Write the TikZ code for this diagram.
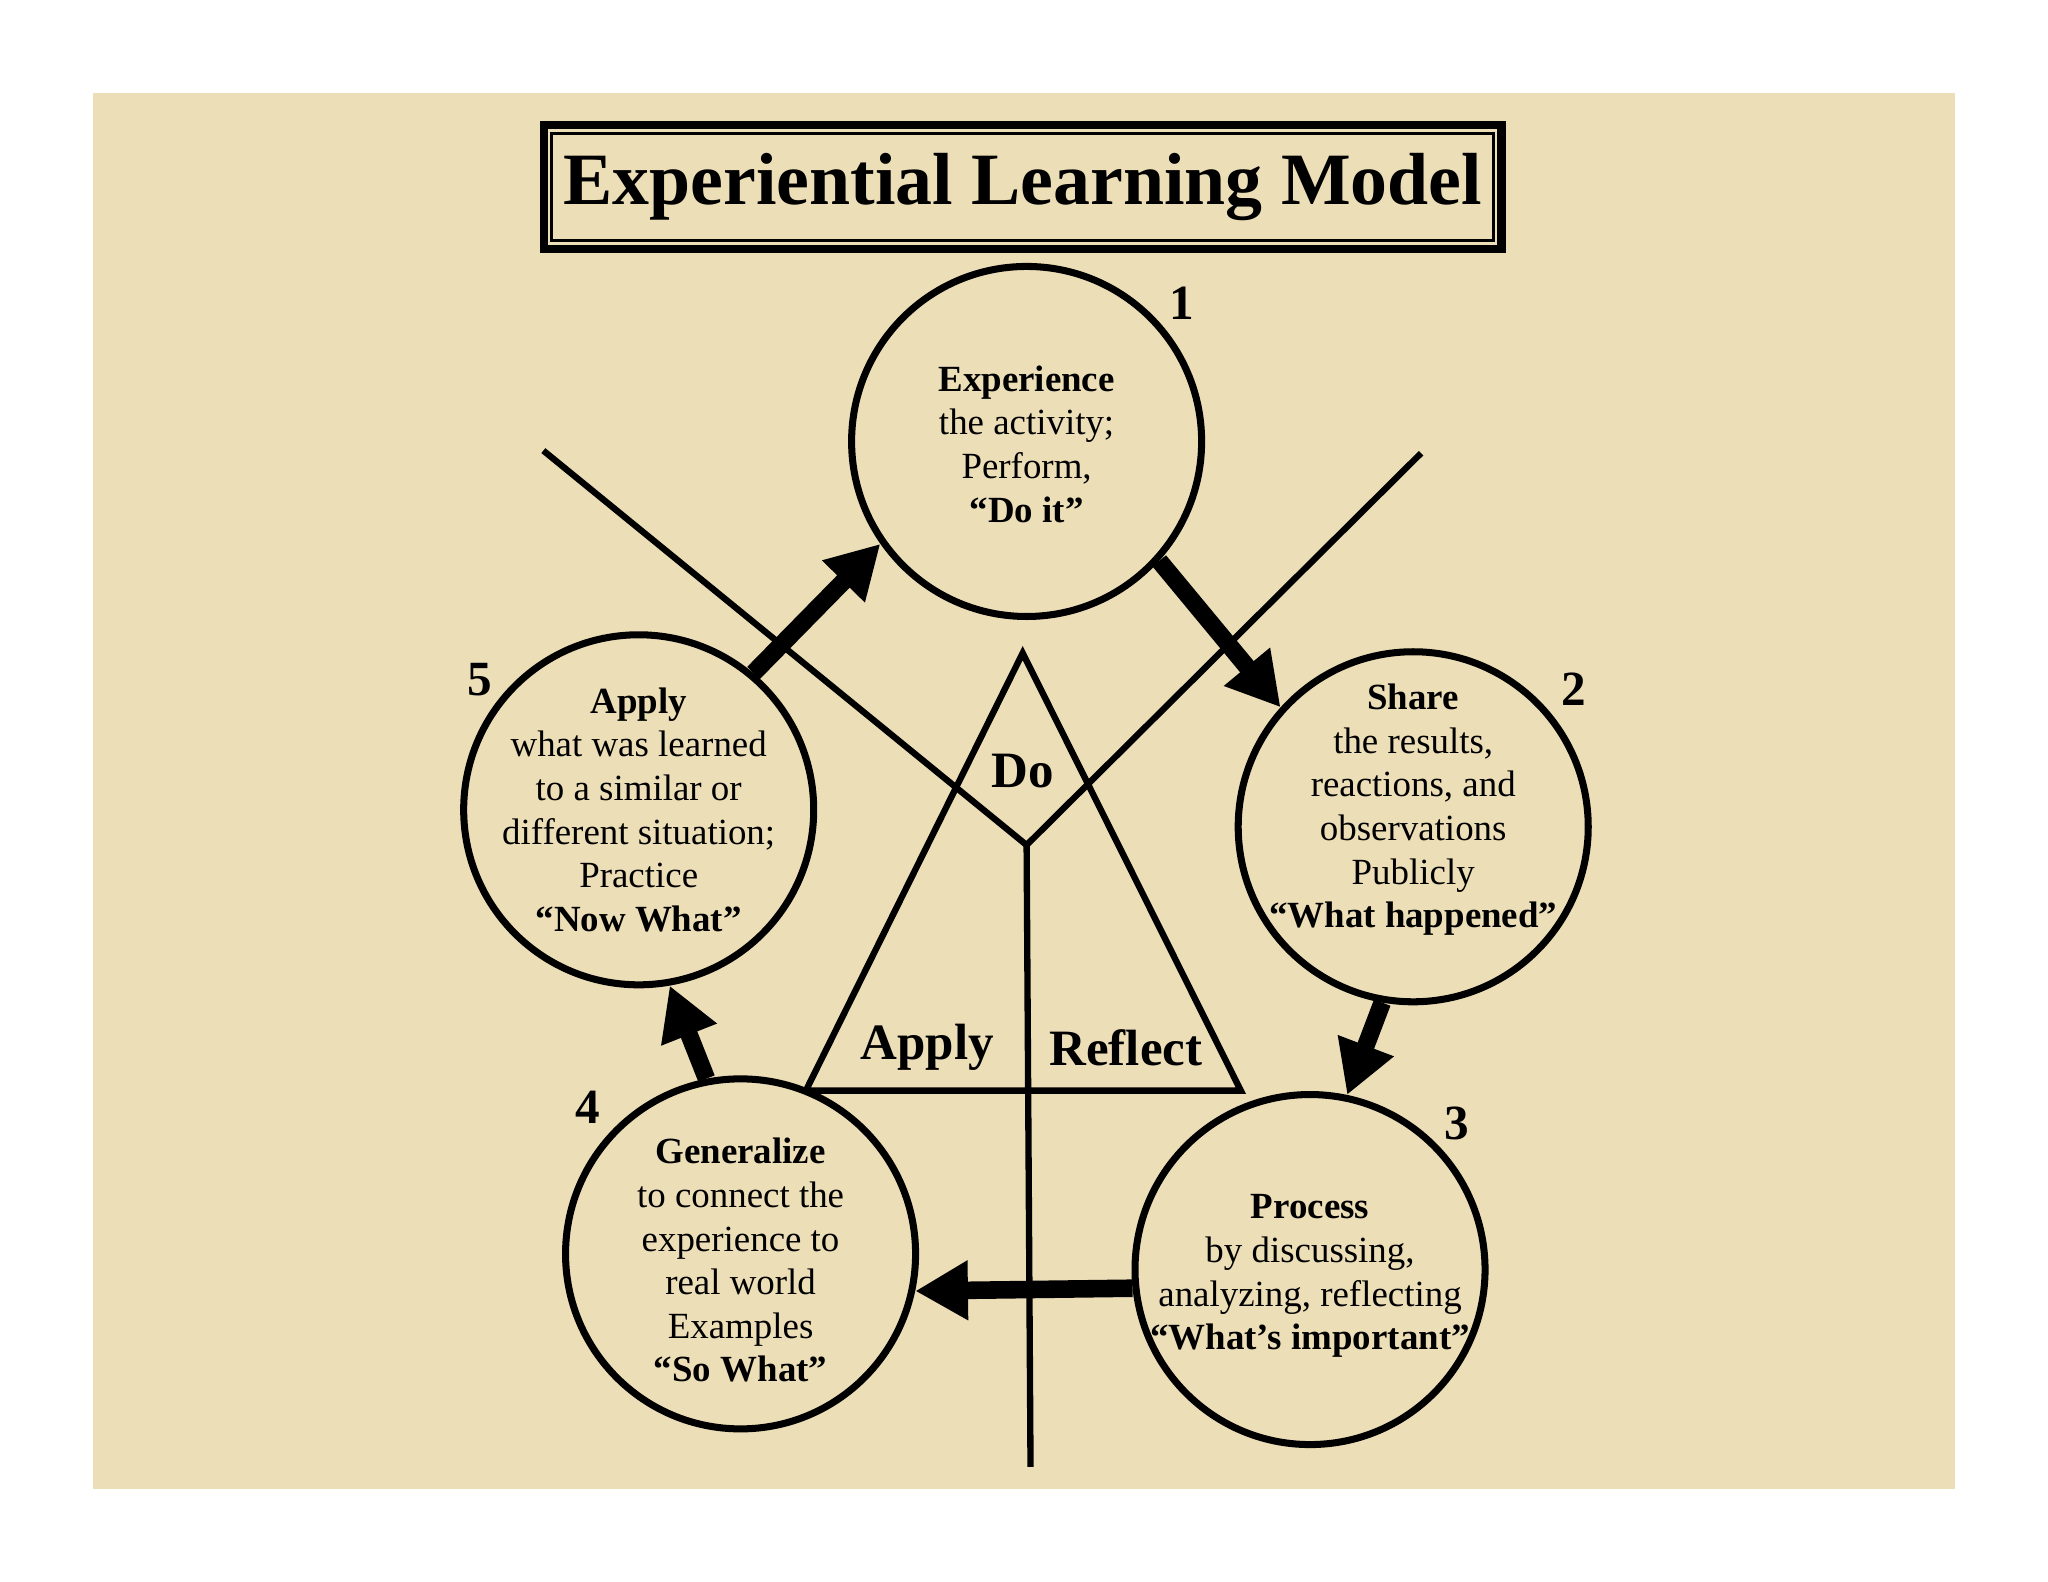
\documentclass[tikz,border=0pt]{standalone}
\usepackage{fontspec}
\setmainfont{Liberation Serif}
\usetikzlibrary{arrows.meta}
\definecolor{parch}{RGB}{236,222,183}
\tikzset{
 stage/.style={circle,draw,line width=2pt,minimum size=268*0.01306cm,inner sep=0pt,fill=parch},
 stagetext/.style={align=center,inner sep=0pt,font=\fontsize{10.5}{12.4}\selectfont},
 bigarrow/.style={line width=5pt,-{Triangle[length=15pt,width=16pt]}},
 num/.style={font=\fontsize{14}{16}\selectfont\bfseries},
 tri/.style={font=\fontsize{14.5}{17}\selectfont\bfseries},
 thin line/.style={line width=1.8pt}
}
\begin{document}
\begin{tikzpicture}[x=0.01306cm,y=-0.01306cm]
\useasboundingbox (0,0) rectangle (1568,1211);
\fill[white] (0,0) rectangle (1568,1211);
\fill[parch] (71,71) rectangle (1497,1140);
\node[draw,line width=2.4pt,minimum width=733*0.01306cm,minimum height=95*0.01306cm] (titlebox) at (783,143) {};
\node[draw,line width=0.8pt,minimum width=720*0.01306cm,minimum height=82*0.01306cm,font=\fontsize{21}{24}\selectfont\bfseries] (title) at (783,143) {Experiential Learning Model};
% lines
\coordinate (vl) at (416,345);
\coordinate (vr) at (1088,347);
\coordinate (vm) at (786,647);
\coordinate (vb) at (789,1123);
\draw[thin line] (vl) -- (vm) -- (vr);
\draw[thin line] (vm) -- (vb);
\coordinate (ta) at (783,500);
\coordinate (tl) at (617,835);
\coordinate (tr) at (950,835);
\draw[thin line] (ta) -- (tl) -- (tr) -- cycle;
\node[tri] (do) at (783,590) {Do};
\node[tri] (ap) at (710,802) {Apply};
\node[tri] (re) at (862,802) {Reflect};
% circles
\node[stage] (c1) at (786,338) {};
\node[stage] (c2) at (1082,633) {};
\node[stage] (c3) at (1003,972) {};
\node[stage] (c4) at (567,960) {};
\node[stage] (c5) at (489,620) {};
\node[stagetext] (t1) at (786,340) {\textbf{Experience}\\the activity;\\Perform,\\\textbf{“Do it”}};
\node[stagetext] (t2) at (1082,620) {\textbf{Share}\\the results,\\reactions, and\\observations\\Publicly\\\textbf{“What happened”}};
\node[stagetext] (t3) at (1003,977) {\textbf{Process}\\by discussing,\\analyzing, reflecting\\\textbf{“What’s important”}};
\node[stagetext] (t4) at (567,965) {\textbf{Generalize}\\to connect the\\experience to\\real world\\Examples\\\textbf{“So What”}};
\node[stagetext] (t5) at (489,620) {\textbf{Apply}\\what was learned\\to a similar or\\different situation;\\Practice\\\textbf{“Now What”}};
\node[num] (n1) at (905,232) {1};
\node[num] (n2) at (1205,528) {2};
\node[num] (n3) at (1115,860) {3};
\node[num] (n4) at (450,848) {4};
\node[num] (n5) at (367,520) {5};
% arrows
\draw[bigarrow] (c1.-42) -- (c2.138);
\draw[bigarrow] (c2.-100) -- (c3.78);
\draw[bigarrow] (c3.186) -- (c4.-12);
\draw[bigarrow] (c4.101) -- (c5.-80);
\draw[bigarrow] (c5.50) -- (c1.-145);
\end{tikzpicture}
\end{document}
